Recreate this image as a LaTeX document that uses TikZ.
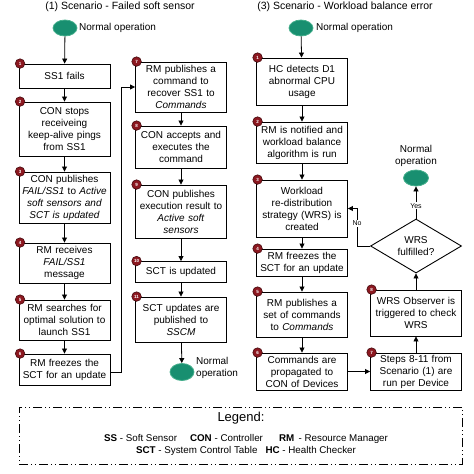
\documentclass[tikz,border=0pt]{standalone}
\usepackage{fontspec}
\setmainfont{Liberation Sans}
\usetikzlibrary{shapes.geometric,arrows.meta}
\definecolor{tealop}{RGB}{24,143,112}
\definecolor{tealedge}{RGB}{70,175,140}
\definecolor{badgered}{RGB}{140,24,32}
\definecolor{badgeedge}{RGB}{70,10,14}
\tikzset{
  stepbox/.style={draw, line width=0.9pt, align=center, inner sep=1pt,
    minimum width=91pt, text width=89pt, font=\fontsize{10}{12}\selectfont},
  badge/.style={circle, fill=badgered, draw=badgeedge, line width=0.6pt,
    minimum size=9.5pt, inner sep=0pt, text=white, font=\fontsize{4.5}{5}\selectfont\bfseries},
  opstate/.style={ellipse, fill=tealop, draw=tealedge, line width=0.8pt,
    minimum width=24pt, minimum height=16pt, inner sep=0pt},
  lbl/.style={font=\fontsize{10}{12}\selectfont, align=left, inner sep=0pt},
  flow/.style={-{Triangle[length=5pt,width=5pt]}, line width=0.8pt},
  title/.style={font=\fontsize{10.5}{12}\selectfont, inner sep=0pt},
  edgelbl/.style={fill=white, inner sep=1pt, font=\fontsize{7}{8}\selectfont},
  legendline/.style={draw, line width=0.8pt,
    dash pattern=on 9pt off 3pt on 1pt off 3pt on 1pt off 3pt},
  legtext/.style={font=\fontsize{9.8}{11}\selectfont, inner sep=0pt}
}
\begin{document}
\begin{tikzpicture}[x=1pt,y=-1pt]
\useasboundingbox (0,0) rectangle (474,474);
% titles
\node[title] (t1) at (120,7) {(1) Scenario - Failed soft sensor};
\node[title] (t3) at (345,7) {(3) Scenario - Workload balance error};
% left column
\node[opstate] (sL) at (65,28) {};
\node[lbl, anchor=west] (sLl) at (79,28) {Normal operation};
\node[stepbox, minimum height=24pt] (L1) at (64.5,76) {SS1 fails};
\node[stepbox, minimum height=54pt] (L2) at (64.5,129) {CON stops\\receiveing\\keep-alive pings\\from SS1};
\node[stepbox, minimum height=51pt] (L3) at (64.5,197.5) {CON publishes\\\textit{FAIL/SS1} to \textit{Active}\\\textit{soft sensors and}\\\textit{SCT is updated}};
\node[stepbox, minimum height=40pt] (L4) at (64.5,263) {RM receives\\\textit{FAIL/SS1}\\message};
\node[stepbox, minimum height=40pt] (L5) at (64.5,320) {RM searches for\\optimal solution to\\launch SS1};
\node[stepbox, minimum height=31pt] (L6) at (64.5,369.5) {RM freezes the\\SCT for an update};
% middle column
\node[stepbox, minimum height=50pt] (M7) at (181,87) {RM publishes a\\command to\\recover SS1 to\\\textit{Commands}};
\node[stepbox, minimum height=42pt] (M8) at (181,147) {CON accepts and\\executes the\\command};
\node[stepbox, minimum height=53pt] (M9) at (181,211.5) {CON publishes\\execution result to\\\textit{Active soft}\\\textit{sensors}};
\node[stepbox, minimum height=21pt] (M10) at (181,272) {SCT is updated};
\node[stepbox, minimum height=45pt] (M11) at (181,319.5) {SCT updates are\\published to\\\textit{SSCM}};
\node[opstate, minimum height=17pt] (eM) at (182,372) {};
\node[lbl, anchor=west] (eMl) at (196,368) {Normal\\operation};
% right column
\node[opstate] (sR) at (301,28) {};
\node[lbl, anchor=west] (sRl) at (316,28) {Normal operation};
\node[stepbox, minimum height=47pt] (R1) at (302,81.5) {HC detects D1\\abnormal CPU\\usage};
\node[stepbox, minimum height=41pt] (R2) at (302,142.5) {RM is notified and\\workload balance\\algorithm is run};
\node[stepbox, minimum height=57pt] (R3) at (302,208.5) {Workload\\re-distribution\\strategy (WRS) is\\created};
\node[stepbox, minimum height=27pt] (R4) at (302,262.5) {RM freezes the\\SCT for an update};
\node[stepbox, minimum height=45pt] (R5) at (302,314.5) {RM publishes a\\set of commands\\to \textit{Commands}};
\node[stepbox, minimum height=37pt] (R6) at (302,371.5) {Commands are\\propagated to\\CON of Devices};
\node[stepbox, minimum height=37pt] (R7) at (416,371.5) {Steps 8-11 from\\Scenario (1) are\\run per Device};
\node[stepbox, minimum height=46pt] (R8) at (416,313) {WRS Observer is\\triggered to check\\WRS};
\node[diamond, draw, line width=0.9pt, aspect=1.69, inner sep=0pt,
  minimum width=91pt, minimum height=54pt, align=center,
  font=\fontsize{10}{12}\selectfont] (D) at (416,246) {WRS\\fulfilled?};
\node[opstate, minimum width=25pt, minimum height=16pt] (eR) at (416,178) {};
\node[lbl, align=center, anchor=south] (eRl) at (416,167) {Normal\\operation};
% badges
\foreach \n/\b in {L1/1,L2/2,L3/3,L4/4,L5/5,L6/6,M7/7,M8/8,M9/9,M10/10,M11/11,
                   R1/1,R2/2,R3/3,R4/4,R5/5,R6/6,R7/7,R8/8}
  \node[badge] (b\n) at ([xshift=1.5pt]\n.north west) {\b};
% connectors left
\draw[flow] (sL) -- (L1);
\draw[flow] (L1) -- (L2);
\draw[flow] (L2) -- (L3);
\draw[flow] (L3) -- (L4);
\draw[flow] (L4) -- (L5);
\draw[flow] (L5) -- (L6);
\draw[flow] ([yshift=-3pt]L6.east) -- ++(11,0) |- (M7.west);
\draw[flow] (M7) -- (M8);
\draw[flow] (M8) -- (M9);
\draw[flow] (M9) -- (M10);
\draw[flow] (M10) -- (M11);
\draw[flow] (M11) -- (eM);
% connectors right
\draw[flow] (sR) -- (R1);
\draw[flow] (R1) -- (R2);
\draw[flow] (R2) -- (R3);
\draw[flow] (R3) -- (R4);
\draw[flow] (R4) -- (R5);
\draw[flow] (R5) -- (R6);
\draw[flow] (R6) -- (R7);
\draw[flow] (R7) -- (R8);
\draw[flow] (R8) -- (D);
\draw[flow] (D) -- node[edgelbl, pos=0.4] {Yes} (eR);
\draw[flow] (D.west) -- ++(-13,0) coordinate (nocorner) |- node[edgelbl, pos=0.3] {No} (R3.east);
% legend
\node[legendline, minimum width=443pt, minimum height=57pt] (leg) at (240.5,435.5) {};
\node[font=\fontsize{13}{14}\selectfont, inner sep=0pt] (legt) at (241,418) {Legend:};
\node[legtext] (leg1) at (246,439)
  {\textbf{SS} - Soft Sensor\hspace{13pt}\textbf{CON} - Controller\hspace{16pt}\textbf{RM}\, - Resource Manager};
\node[legtext] (leg2) at (246,451)
  {\textbf{SCT} - System Control Table\hspace{8pt}\textbf{HC} - Health Checker};
\end{tikzpicture}
\end{document}
